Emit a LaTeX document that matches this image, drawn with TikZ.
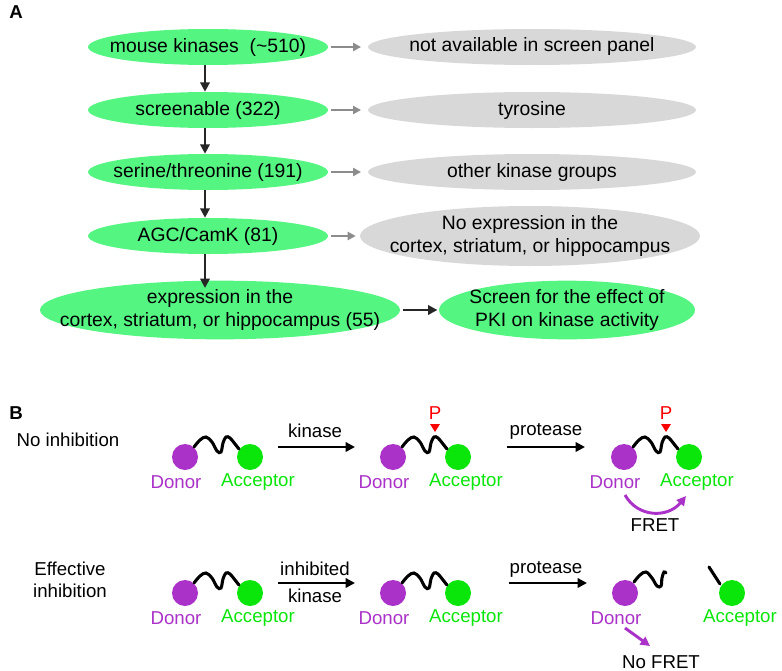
\documentclass[tikz,border=0pt]{standalone}
\usepackage{fontspec}
\setmainfont{Liberation Sans}
\usetikzlibrary{shapes.geometric,arrows.meta}
\definecolor{lg}{RGB}{85,245,130}
\definecolor{gr}{RGB}{216,216,216}
\definecolor{garr}{RGB}{140,140,140}
\definecolor{pur}{RGB}{170,50,200}
\definecolor{acc}{RGB}{10,230,10}
\begin{document}
\begin{tikzpicture}[x=0.75pt,y=-0.75pt,
  every node/.style={font=\fontsize{14}{16.5}\selectfont},
  box/.style={rectangle,inner sep=0pt,align=center,font=\fontsize{14.5}{17}\selectfont},
  g/.style={box,minimum width=180pt,minimum height=27pt},
  s/.style={box,minimum width=246pt,minimum height=27pt},
  ba/.style={-{Triangle[length=7pt,width=7pt]},line width=2.2pt,black!85},
  ga/.style={-{Triangle[length=6pt,width=6pt]},line width=2pt,garr},
  ka/.style={-{Triangle[length=7pt,width=7pt]},line width=2.2pt},
  don/.style={circle,fill=pur,minimum size=19.5pt,inner sep=0pt},
  acp/.style={circle,fill=acc,minimum size=19.5pt,inner sep=0pt},
  lk/.style={line width=2.3pt,line cap=round}]
\useasboundingbox (0,0) rectangle (782,671);
\node[font=\bfseries\fontsize{14}{16}\selectfont] (lA) at (16,12) {A};
\node[font=\bfseries\fontsize{14}{16}\selectfont] (lB) at (16,413) {B};
% panel A backgrounds
\foreach \y in {47,110,172,236}{\fill[lg] (208,\y) ellipse [x radius=90pt,y radius=13.5pt];}
\foreach \y in {47,110,172}{\fill[gr] (532,\y) ellipse [x radius=123pt,y radius=13.5pt];}
\fill[gr] (530,236) ellipse [x radius=127.5pt,y radius=22.5pt];
\fill[lg] (220,310) ellipse [x radius=135pt,y radius=22pt];
\fill[lg] (567,310) ellipse [x radius=96pt,y radius=22pt];
\node[g] (g1) at (208,47) {mouse kinases\ \ (\textasciitilde510)};
\node[g] (g2) at (208,110) {screenable (322)};
\node[g] (g3) at (208,172) {serine/threonine (191)};
\node[g] (g4) at (208,236) {AGC/CamK (81)};
\node[g,minimum width=270pt,minimum height=44pt] (g5) at (220,310) {expression in the\\cortex, striatum, or hippocampus (55)};
\node[s] (s1) at (532,47) {not available in screen panel};
\node[s] (s2) at (532,110) {tyrosine};
\node[s] (s3) at (532,172) {other kinase groups};
\node[s,minimum width=255pt,minimum height=45pt] (s4) at (530,236) {No expression in the\\cortex, striatum, or hippocampus};
\node[g,minimum width=192pt,minimum height=44pt] (s5) at (567,310) {Screen for the effect of\\PKI on kinase activity};
\draw[ba] (g1.south -| 205,0) -- (g2.north -| 205,0);
\draw[ba] (g2.south -| 205,0) -- (g3.north -| 205,0);
\draw[ba] (g3.south -| 205,0) -- (g4.north -| 205,0);
\draw[ba] (g4.south -| 205,0) -- (205,288);
\draw[ga] ([xshift=2pt]g1.east) -- ([xshift=-5pt]s1.west);
\draw[ga] ([xshift=2pt]g2.east) -- ([xshift=-5pt]s2.west);
\draw[ga] ([xshift=2pt]g3.east) -- ([xshift=-5pt]s3.west);
\draw[ga] ([xshift=2pt]g4.east) -- ([xshift=-3pt]s4.west);
\draw[ba] ([xshift=2pt]g5.east) -- ([xshift=-1pt]s5.west);
% panel B
\node (ni) at (68,440) {No inhibition};
\node[align=center] (ei) at (70,580) {Effective\\inhibition};
\foreach \n/\x/\y in {a/185/457,b/393/457,c/624/457,d/185/593,e/393/593,f/625/593}{
  \node[don] (D\n) at (\x,\y) {};
  \node[text=pur] (Dt\n) at (\x-9,\y+25) {Donor};
}
\foreach \n/\x/\y in {a/250/457,b/458/457,c/689/457,d/250/593,e/458/593,f/732/593}{
  \node[acp] (A\n) at (\x,\y) {};
  \node[text=acc] (At\n) at (\x+8,\y+25) {Acceptor};
}
\foreach \n in {a,b,c,d,e}{
  \begin{scope}[shift={(D\n.center)}]
  \draw[lk] plot[smooth,tension=0.6] coordinates {(9,-10) (15,-17) (21,-20) (27,-15) (32,-6) (36,-5) (38,-14) (41,-20) (45,-19) (50,-13) (54,-8)};
  \end{scope}
}
\begin{scope}[shift={(Df.center)}]
\draw[lk] plot[smooth,tension=0.6] coordinates {(9,-11) (15,-18) (21,-21) (27,-15) (32,-7) (36,-7) (37,-15) (39,-21) (41,-20)};
\end{scope}
\draw[lk] (Af.center) ++(-23,-26) -- ++(11,17);
% P labels
\foreach \n in {b,c}{
  \fill[red] (D\n) ++(37,-33) -- ++(10,0) -- ++(-5,8) -- cycle;
  \node[text=red] (P\n) at ([xshift=31.5pt,yshift=33pt]D\n.center) {P};
}
\draw[ka] (278,447) coordinate (k1s) -- (355,447) coordinate (k1e);
\node (kin) at (315,431) {kinase};
\draw[ka] (507,447) coordinate (p1s) -- (585,447) coordinate (p1e);
\node (pro1) at (546,431) {protease};
\draw[ka] (278,583) coordinate (k2s) -- (355,583) coordinate (k2e);
\node (inh) at (315,569) {inhibited};
\node (kin2) at (315,596) {kinase};
\draw[ka] (509,583) coordinate (p2s) -- (587,583) coordinate (p2e);
\node (pro2) at (546,569) {protease};
% FRET
\coordinate (f1) at (625,495);
\coordinate (f2) at (686,496);
\draw[pur,line width=2.2pt,-{Triangle[length=7pt,width=7pt]}] (f1) .. controls (638,518) and (668,518) .. (f2);
\node (fret) at (655,525) {FRET};
\coordinate (n1) at (625,628);
\coordinate (n2) at (650,646);
\draw[pur,line width=2.2pt,-{Triangle[length=7pt,width=7pt]}] (n1) -- (n2);
\node (nofret) at (661,662) {No FRET};
\end{tikzpicture}
\end{document}
